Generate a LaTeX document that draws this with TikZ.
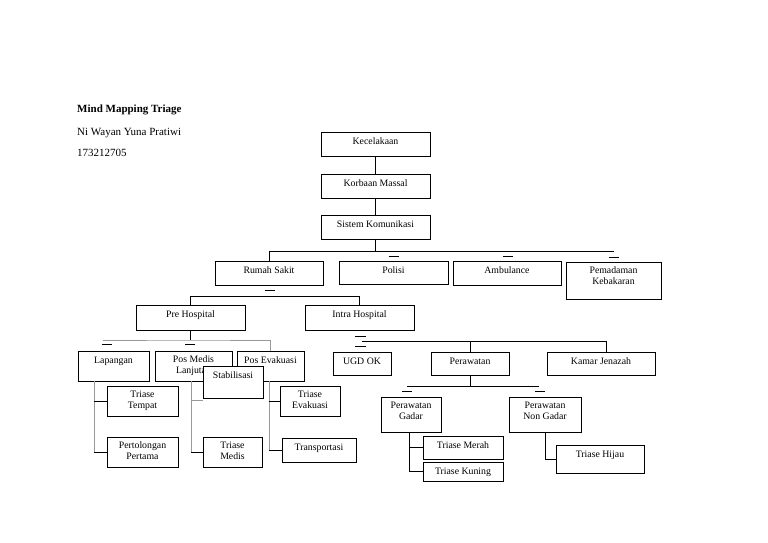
\documentclass[tikz,border=0pt]{standalone}
\usepackage{fontspec}
\setmainfont{Liberation Serif}
\tikzset{
  boxst/.style={draw, fill=white, line width=0.7pt, inner sep=0pt, outer sep=0pt},
  txtst/.style={inner xsep=1pt, inner ysep=4.5pt, align=center,
    font=\fontsize{9.8}{11}\selectfont, execute at begin node=\strut},
  link/.style={line width=0.7pt, draw=black},
  glink/.style={line width=0.7pt, draw=black!40},
  hdr/.style={anchor=base west, inner sep=0pt, font=\fontsize{11}{13}\selectfont},
  hdrb/.style={anchor=base west, inner sep=0pt, font=\fontsize{11}{13}\selectfont\bfseries}
}
\newcommand\mybox[6]{%
  \node[boxst, minimum width={(#4-#2)*1pt}, minimum height={(#5-#3)*1pt}] (#1) at ({(#2+#4)/2},{(#3+#5)/2}) {};
  \node[txtst, anchor=north] (#1-txt) at ({(#2+#4)/2},#3) {#6};}
\begin{document}
\begin{tikzpicture}[x=1pt,y=-1pt]
\fill[white] (0,0) rectangle (768,543);
\useasboundingbox (0,0) rectangle (768,543);

% header
\node[hdrb] (title) at (77,112.5) {Mind Mapping Triage};
\node[hdr] (author) at (77,135.5) {Ni Wayan Yuna Pratiwi};
\node[hdr] (nim) at (77,156) {173212705};

% boxes
\mybox{kec}{321}{132}{430}{156}{Kecelakaan}
\mybox{kor}{321}{174}{430}{198}{Korbaan Massal}
\mybox{sis}{321}{215}{430}{239}{Sistem Komunikasi}
\mybox{rs}{215}{261}{323}{285}{Rumah Sakit}
\mybox{pol}{339}{261}{448}{284}{Polisi}
\mybox{amb}{453}{261}{561}{285}{Ambulance}
\mybox{pem}{566}{262}{661}{299}{Pemadaman\\Kebakaran}
\mybox{pre}{136}{305}{245}{330}{Pre Hospital}
\mybox{intra}{305}{305}{414}{330}{Intra Hospital}
\mybox{lap}{78}{351}{149}{381}{Lapangan}
\mybox{pm}{155}{351}{232}{381}{Pos Medis\\Lanjutan}
\mybox{pe}{237}{351}{304}{381}{Pos Evakuasi}
\mybox{tt}{107}{386}{178}{416}{Triase\\Tempat}
\mybox{pertol}{107}{437}{178}{467}{Pertolongan\\Pertama}
\mybox{tmed}{203}{437}{262}{467}{Triase\\Medis}
\mybox{tev}{280}{386}{340}{416}{Triase\\Evakuasi}
\mybox{trans}{282}{438}{356}{462}{Transportasi}
\mybox{ugd}{333}{352}{391}{375}{UGD OK}
\mybox{per}{431}{352}{509}{375}{Perawatan}
\mybox{kam}{547}{352}{655}{375}{Kamar Jenazah}
\mybox{gad}{381}{397}{441}{432}{Perawatan\\Gadar}
\mybox{ngad}{509}{397}{581}{432}{Perawatan\\Non Gadar}
\mybox{tmer}{423}{436}{503}{459}{Triase Merah}
\mybox{tkun}{423}{462}{503}{481}{Triase Kuning}
\mybox{thij}{556}{445}{644}{473}{Triase Hijau}

% top chain
\draw[link] (kec.south) -- (kor.north);
\draw[link] (kor.south) -- (sis.north);
\coordinate (b1) at ([yshift=-12pt]sis.south);
\draw[link] (sis.south) -- (b1);
\draw[link] (rs.north) |- (b1 -| pem.north);
\draw[link] ([xshift=-5pt,yshift=5pt]pol.north) -- ([xshift=5pt,yshift=5pt]pol.north);
\draw[link] ([xshift=-4pt,yshift=5pt]amb.north) -- ([xshift=6pt,yshift=5pt]amb.north);
\draw[link] ([xshift=-5pt,yshift=5pt]pem.north) -- ([xshift=5pt,yshift=5pt]pem.north);

% rumah sakit
\draw[link] ([xshift=-4pt,yshift=-5pt]rs.south) -- ([xshift=6pt,yshift=-5pt]rs.south);
\draw[link] (pre.north) -- ++(0,-9) -| (intra.north);

% pre hospital
\coordinate (b3) at ([yshift=-10pt]pre.south);
\draw[link] (pre.south) -- (b3);
\draw[glink] ([xshift=-11pt]b3 -| lap.north) -- (b3) -| (pe.north);
\draw[link] ([xshift=-11.5pt,yshift=7pt]lap.north) -- ([xshift=-1.5pt,yshift=7pt]lap.north);
\draw[link] ([xshift=-8.5pt,yshift=7pt]pm.north) -- ([xshift=1.5pt,yshift=7pt]pm.north);

\coordinate (lapv) at ([xshift=16pt]lap.south west);
\draw[glink] (lapv) -- (lapv |- pertol.west);
\draw[link] (lapv |- pertol.west) -- (pertol.west);
\draw[link] (lapv |- tt.west) -- (tt.west);

\coordinate (pmv) at ([xshift=-2.5pt]pm.south);
\draw[glink] (pmv) -- (pmv |- tmed.west);
\draw[link] (pmv |- tmed.west) -- (tmed.west);

\coordinate (pev) at ([xshift=-1.5pt]pe.south);
\draw[glink] (pev) -- (pev |- trans.west);
\draw[link] (pev |- trans.west) -- (trans.west);
\draw[link] (pev |- tev.west) -- (tev.west);

% stabilisasi on top
\mybox{stab}{203}{366}{263}{398}{Stabilisasi}
\draw[glink] ([yshift=-2pt]stab.south west) -- ([yshift=-2pt]stab.south west -| pmv);

% intra hospital
\draw[link] ([xshift=-4.5pt,yshift=-6pt]intra.south) -- ([xshift=6.5pt,yshift=-6pt]intra.south);
\draw[link] ([xshift=-4.5pt,yshift=-16pt]intra.south) -- ([xshift=6.5pt,yshift=-16pt]intra.south);
\coordinate (b4) at ([xshift=2pt,yshift=-11pt]intra.south);
\draw[link] (b4) -| (per.north);
\draw[link] (b4 -| per.north) -| ([xshift=5pt]kam.north);

% perawatan
\coordinate (b5) at ([yshift=-11pt]per.south);
\draw[link] (per.south) -- (b5);
\draw[link] ([xshift=-4pt]gad.north |- b5) -- ([xshift=-6pt]ngad.north |- b5);
\draw[link] ([xshift=-9pt,yshift=6pt]gad.north) -- ([xshift=1pt,yshift=6pt]gad.north);
\draw[link] ([xshift=-10pt,yshift=6pt]ngad.north) -- ([xshift=0pt,yshift=6pt]ngad.north);

\coordinate (gv) at ([xshift=-1.5pt]gad.south);
\draw[link] (gv) |- (tkun.west);
\draw[link] (gv |- tmer.west) -- (tmer.west);
\draw[link] (ngad.south) |- (thij.west);
\end{tikzpicture}
\end{document}
